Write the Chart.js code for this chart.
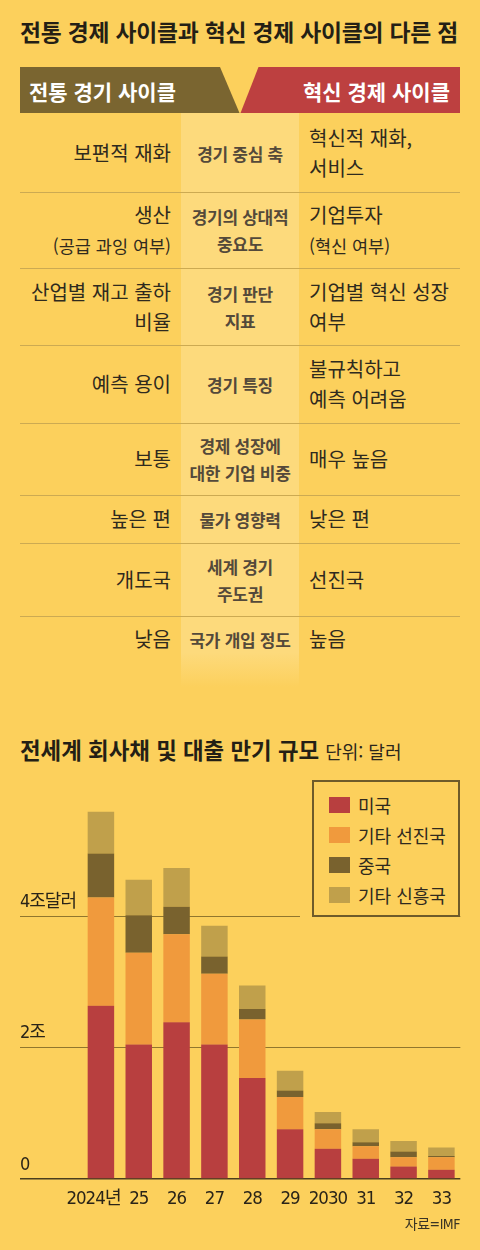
<!DOCTYPE html>
<html lang="ko">
<head>
<meta charset="utf-8">
<script src="https://cdn.jsdelivr.net/npm/chart.js@4.4.1/dist/chart.umd.min.js"></script>
<style>
  html, body { margin:0; padding:0; }
  body { width:480px; height:1250px; background:#FCD05C; position:relative; overflow:hidden;
         font-family:"Noto Sans CJK KR","Noto Sans",sans-serif; color:#2b261b; }
  .abs { position:absolute; }
  #title1 { left:20px; top:14px; font-size:22.8px; font-weight:700; white-space:nowrap; letter-spacing:-0.2px; color:#241f15; line-height:36px; }
  #hdr { left:20px; top:67px; width:440px; height:46px; }
  .hdrText { position:absolute; top:77px; font-size:21px; font-weight:700; color:#fff; white-space:nowrap; line-height:28px; }
  #midcol { left:181px; top:113px; width:118px; height:574px;
            background:linear-gradient(to bottom, #FDDA7C 0%, #FDDA7C 94%, rgba(253,218,124,0) 100%); }
  .rowline { position:absolute; left:20px; width:440px; height:1px; background:#CCAA52; }
  .cell { position:absolute; display:flex; flex-direction:column; justify-content:center; white-space:nowrap; }
  .lcell { left:0; width:171px; align-items:flex-end; text-align:right; font-size:20px; line-height:30px; color:#2f2a1e; }
  .ccell { left:181px; width:118px; align-items:center; text-align:center; font-size:17px; font-weight:700; line-height:27px; color:#54493a; letter-spacing:-0.3px; }
  .rcell { left:309px; width:170px; align-items:flex-start; text-align:left; font-size:20px; line-height:30px; color:#2f2a1e; }
  .small { font-size:17.5px; }
  #title2 { left:20px; top:733px; font-size:22.4px; font-weight:700; white-space:nowrap; color:#241f15; line-height:32px; }
  #title2 span { font-size:18px; font-weight:400; margin-left:6px; color:#2b261b; }
  #chartWrap { left:20px; top:770px; width:441px; height:460px; }
  #legendWrap { left:300px; top:780px; width:160px; height:137px; background:#FCD05C; }
  #legend { position:absolute; left:12px; top:0; width:144px; height:133px; border:2px solid #6E5B2A; background:#FCD05C; }
  .li { position:absolute; left:15px; height:20px; display:flex; align-items:center; font-size:18px; white-space:nowrap; color:#2f2a1e; }
  .sw { width:21px; height:16px; margin-right:8px; }
  #source { left:380px; width:80px; top:1213px; text-align:right; font-size:14px; color:#3a3425; letter-spacing:-0.5px;
            font-family:"Liberation Sans Narrow","DejaVu Sans Condensed","Noto Sans CJK KR",sans-serif; }
</style>
</head>
<body>
<div id="title1" class="abs">전통 경제 사이클과 혁신 경제 사이클의 다른 점</div>
<svg id="hdr" class="abs" width="440" height="46" viewBox="0 0 440 46">
  <polygon points="0,0 200,0 219.5,46 0,46" fill="#7A6530"/>
  <polygon points="238.5,0 440,0 440,46 220.5,46" fill="#BD4040"/>
</svg>
<div class="hdrText" style="left:29px;">전통 경기 사이클</div>
<div class="hdrText" style="right:30px;">혁신 경제 사이클</div>
<div id="midcol" class="abs"></div>
<div id="table"></div>

<div id="title2" class="abs">전세계 회사채 및 대출 만기 규모<span>단위: 달러</span></div>
<div id="chartWrap" class="abs"><canvas id="c" width="441" height="460"></canvas></div>
<div id="legendWrap" class="abs"><div id="legend"></div></div>
<div id="source" class="abs">자료=IMF</div>

<script>
// ---- table content ----
const rowLeft = [["보편적 재화"],["생산","<span class='small'>(공급 과잉 여부)</span>"],["산업별 재고 출하","비율"],["예측 용이"],["보통"],["높은 편"],["개도국"],["낮음"]];
const rowCenter = [["경기 중심 축"],["경기의 상대적","중요도"],["경기 판단","지표"],["경기 특징"],["경제 성장에","대한 기업 비중"],["물가 영향력"],["세계 경기","주도권"],["국가 개입 정도"]];
const rowRight = [["혁신적 재화,","서비스"],["기업투자","<span class='small'>(혁신 여부)</span>"],["기업별 혁신 성장","여부"],["불규칙하고","예측 어려움"],["매우 높음"],["낮은 편"],["선진국"],["높음"]];
const rowEdges = [114, 192, 268, 345, 423, 495, 543, 616, 662];

// ---- chart data ----
const years = ['2024년','25','26','27','28','29','2030','31','32','33'];
const usa      = [2.64, 2.05, 2.39, 2.05, 1.54, 0.76, 0.46, 0.31, 0.19, 0.14];
const otherAdv = [1.65, 1.40, 1.34, 1.08, 0.89, 0.49, 0.30, 0.19, 0.14, 0.19];
const china    = [0.67, 0.57, 0.42, 0.26, 0.16, 0.10, 0.09, 0.06, 0.09, 0.02];
const otherEm  = [0.64, 0.54, 0.59, 0.47, 0.36, 0.30, 0.17, 0.20, 0.16, 0.13];
const seriesNames = ['미국','기타 선진국','중국','기타 신흥국'];
const seriesColors = ['#B83F3F','#F09A3D','#79622E','#C0A04B'];
const yTickValues = [0, 2, 4];
const yTickLabels = ['0', '2조', '4조달러'];

// build table
const t = document.getElementById('table');
for (let i = 0; i < rowLeft.length; i++) {
  const top = rowEdges[i], h = rowEdges[i+1] - rowEdges[i];
  [['lcell', rowLeft[i]], ['ccell', rowCenter[i]], ['rcell', rowRight[i]]].forEach(([cls, lines]) => {
    const d = document.createElement('div');
    d.className = 'cell ' + cls;
    d.style.top = top + 'px'; d.style.height = h + 'px';
    d.innerHTML = lines.map(l => '<div>' + l + '</div>').join('');
    t.appendChild(d);
  });
  if (i < rowLeft.length - 1) {
    const ln = document.createElement('div');
    ln.className = 'rowline';
    ln.style.top = rowEdges[i+1] + 'px';
    t.appendChild(ln);
  }
}

// legend
const lg = document.getElementById('legend');
seriesNames.forEach((n, i) => {
  const d = document.createElement('div');
  d.className = 'li';
  d.style.top = (13 + i * 30) + 'px';
  d.innerHTML = '<div class="sw" style="background:' + seriesColors[i] + '"></div>' + n;
  lg.appendChild(d);
});

const narrow = '"Liberation Sans Narrow","DejaVu Sans Condensed","Noto Sans CJK KR",sans-serif';
const seriesData = [usa, otherAdv, china, otherEm];

// tighter letter spacing for axis labels (condensed look)
const tightText = {
  id: 'tightText',
  beforeDraw: c => { c.ctx.letterSpacing = '-1px'; },
  afterDraw: c => { c.ctx.letterSpacing = '0px'; }
};

new Chart(document.getElementById('c'), {
  type: 'bar',
  data: {
    labels: years,
    datasets: seriesData.map((d, i) => ({
      label: seriesNames[i], data: d, backgroundColor: seriesColors[i],
      borderWidth: 0, barPercentage: 0.7, categoryPercentage: 1.0
    }))
  },
  plugins: [tightText],
  options: {
    responsive: false, animation: false,
    layout: { padding: { top: 15.4, right: 0, bottom: 0, left: 0 } },
    plugins: { legend: { display: false }, tooltip: { enabled: false } },
    scales: {
      x: {
        stacked: true,
        grid: { display: false, drawTicks: false },
        border: { display: false },
        ticks: {
          color: '#2a2418', font: { family: narrow, size: 18.5 }, padding: 9, maxRotation: 0, autoSkip: false,
          // first (long) label sits slightly left of its bar, as in the original
          callback: (v, i) => i === 0 ? years[i] + '\u2002\u2002' : years[i]
        },
        afterFit: s => { s.height = 51; }
      },
      y: {
        stacked: true, min: 0, max: 6, z: 1,
        afterBuildTicks: s => { s.ticks = yTickValues.map(v => ({ value: v })); },
        afterFit: s => { s.width = 62; },
        border: { display: false },
        grid: {
          drawTicks: true, tickLength: 62,
          color: c => (c.tick && c.tick.value === 0) ? '#4A3E1E' : 'rgba(110,88,30,0.75)',
          lineWidth: c => (c.tick && c.tick.value === 0) ? 1.6 : 1
        },
        ticks: {
          crossAlign: 'far', labelOffset: -14, padding: 0,
          color: '#2a2418', font: { family: narrow, size: 18 },
          callback: v => { const k = yTickValues.indexOf(v); return k >= 0 ? yTickLabels[k] : ''; }
        }
      }
    }
  }
});
</script>
</body>
</html>
